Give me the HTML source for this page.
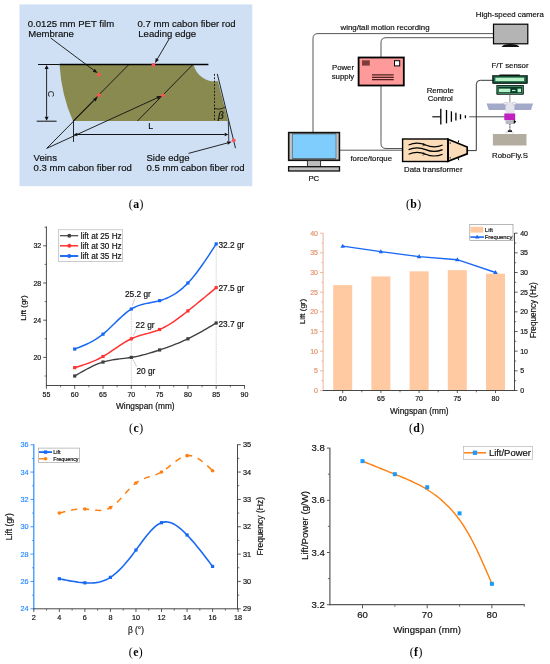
<!DOCTYPE html>
<html><head><meta charset="utf-8"><title>Figure</title>
<style>
html,body{margin:0;padding:0;background:#fff;overflow:hidden;}
svg{display:block;font-family:"Liberation Sans",sans-serif;}
</style></head><body>
<svg width="550" height="664" viewBox="0 0 550 664">
<rect x="0" y="0" width="550" height="664" fill="#fff"/>

<g id="pa">
<rect x="19.5" y="4.4" width="232.8" height="181.8" fill="#cfe0f4"/>
<path d="M59.5,64.4 L193.5,64.4 A22,22 0 0 0 217.9,81.1 L228.2,121 L73,121 Q61.6,96 59.5,64.4 Z" fill="#888a50"/>
<line x1="129" y1="64.4" x2="73" y2="121" stroke="#111" stroke-width="0.9"/>
<line x1="193" y1="64.4" x2="137.4" y2="121" stroke="#111" stroke-width="0.9"/>
<line x1="59.5" y1="64.45" x2="208.4" y2="64.45" stroke="#000" stroke-width="1.6"/>
<line x1="217.3" y1="73.9" x2="235.5" y2="148.2" stroke="#111" stroke-width="0.9"/>
<line x1="214.5" y1="73.9" x2="214.5" y2="121" stroke="#111" stroke-width="0.9" stroke-dasharray="1.9,1.5"/>
<path d="M214.5,108.2 Q220,110.6 225.3,106.8" fill="none" stroke="#111" stroke-width="0.8"/>
<text x="218.00" y="118.60" font-size="10" text-anchor="start" fill="#111" stroke="#111" stroke-width="0.18" font-style="italic">β</text>
<line x1="38" y1="64.5" x2="59.6" y2="64.5" stroke="#111" stroke-width="1"/>
<line x1="36.7" y1="121.2" x2="56.6" y2="121.2" stroke="#111" stroke-width="1"/>
<line x1="46.60" y1="90.00" x2="46.60" y2="69.00" stroke="#111" stroke-width="0.9"/>
<polygon points="46.60,65.00 48.60,69.00 44.60,69.00" fill="#111"/>
<line x1="46.60" y1="90.00" x2="46.60" y2="116.80" stroke="#111" stroke-width="0.9"/>
<polygon points="46.60,120.80 44.60,116.80 48.60,116.80" fill="#111"/>
<text transform="translate(47.6,94) rotate(90)" font-size="8.8" text-anchor="middle" fill="#111">C</text>
<line x1="73.5" y1="121" x2="73.5" y2="142" stroke="#111" stroke-width="0.9"/>
<line x1="228.3" y1="121" x2="228.8" y2="141.3" stroke="#223" stroke-width="0.9"/>
<line x1="150.00" y1="134.50" x2="77.40" y2="134.50" stroke="#111" stroke-width="1"/>
<polygon points="73.80,134.50 77.40,132.70 77.40,136.30" fill="#111"/>
<line x1="150.00" y1="134.50" x2="224.70" y2="134.50" stroke="#111" stroke-width="1"/>
<polygon points="228.30,134.50 224.70,136.30 224.70,132.70" fill="#111"/>
<text x="148.20" y="129.30" font-size="8.8" text-anchor="start" fill="#111" stroke="#111" stroke-width="0.18" >L</text>
<line x1="50.70" y1="38.00" x2="93.82" y2="70.25" stroke="#111" stroke-width="0.9"/>
<polygon points="97.50,73.00 92.74,71.69 94.89,68.80" fill="#111"/>
<line x1="169.40" y1="38.50" x2="157.33" y2="59.03" stroke="#111" stroke-width="0.9"/>
<polygon points="155.00,63.00 155.78,58.12 158.88,59.95" fill="#111"/>
<line x1="46.70" y1="148.40" x2="94.36" y2="100.27" stroke="#111" stroke-width="0.9"/>
<polygon points="97.60,97.00 95.64,101.54 93.08,99.00" fill="#111"/>
<line x1="46.70" y1="148.40" x2="157.12" y2="97.91" stroke="#111" stroke-width="0.9"/>
<polygon points="161.30,96.00 157.87,99.55 156.37,96.28" fill="#111"/>
<line x1="188.50" y1="153.40" x2="227.36" y2="142.99" stroke="#111" stroke-width="0.9"/>
<polygon points="231.80,141.80 227.82,144.73 226.89,141.25" fill="#111"/>
<circle cx="99.0" cy="74.6" r="1.9" fill="#ff5252"/>
<circle cx="99.0" cy="95.2" r="1.9" fill="#ff5252"/>
<circle cx="153.4" cy="65.0" r="1.9" fill="#ff5252"/>
<circle cx="163.0" cy="95.3" r="1.9" fill="#ff5252"/>
<circle cx="233.7" cy="140.3" r="1.9" fill="#ff5252"/>
<text x="27.80" y="26.70" font-size="9.55" text-anchor="start" fill="#111" stroke="#111" stroke-width="0.18" >0.0125 mm PET film</text>
<text x="28.30" y="36.90" font-size="9.55" text-anchor="start" fill="#111" stroke="#111" stroke-width="0.18" >Membrane</text>
<text x="137.50" y="26.70" font-size="9.55" text-anchor="start" fill="#111" stroke="#111" stroke-width="0.18" >0.7 mm cabon fiber rod</text>
<text x="138.30" y="36.90" font-size="9.55" text-anchor="start" fill="#111" stroke="#111" stroke-width="0.18" >Leading edge</text>
<text x="33.60" y="160.50" font-size="9.55" text-anchor="start" fill="#111" stroke="#111" stroke-width="0.18" >Veins</text>
<text x="33.60" y="171.30" font-size="9.55" text-anchor="start" fill="#111" stroke="#111" stroke-width="0.18" >0.3 mm cabon fiber rod</text>
<text x="146.50" y="160.50" font-size="9.55" text-anchor="start" fill="#111" stroke="#111" stroke-width="0.18" >Side edge</text>
<text x="146.50" y="171.30" font-size="9.55" text-anchor="start" fill="#111" stroke="#111" stroke-width="0.18" >0.5 mm cabon fiber rod</text>
<text x="136.40" y="207.60" font-family="'Liberation Serif',serif" font-size="11.8" letter-spacing="0.45" text-anchor="middle" fill="#000">(<tspan font-weight="bold">a</tspan>)</text>
</g>
<g id="pb">
<path d="M313,132 V38.6 Q313,33.6 318,33.6 H493" fill="none" stroke="#444" stroke-width="0.9"/>
<path d="M493,37.7 H386 Q381,37.7 381,42.7 V143.5 Q381,148.5 386,148.5 H403" fill="none" stroke="#444" stroke-width="0.9"/>
<line x1="340" y1="150.2" x2="403" y2="150.2" stroke="#444" stroke-width="0.9"/>
<path d="M493,80.3 H480.3 Q476.3,80.3 476.3,84.3 V150.6 H467" fill="none" stroke="#222" stroke-width="0.9"/>
<line x1="469.2" y1="116.8" x2="505" y2="116.8" stroke="#222" stroke-width="0.8"/>
<text x="340.60" y="30.00" font-size="7.85" text-anchor="start" fill="#111" stroke="#111" stroke-width="0.18" >wing/tail motion recording</text>
<rect x="358.6" y="57.5" width="45.2" height="28" fill="#ff9a9a" stroke="#000" stroke-width="1.8"/>
<rect x="362" y="60.3" width="7.8" height="5.3" fill="#7d3b3b"/>
<rect x="394.5" y="60.7" width="5.2" height="5.2" fill="#fff" stroke="#000" stroke-width="1"/>
<line x1="372" y1="74.9" x2="393.7" y2="74.9" stroke="#2a0808" stroke-width="1.05"/>
<line x1="372" y1="77.3" x2="393.7" y2="77.3" stroke="#2a0808" stroke-width="1.05"/>
<line x1="372" y1="79.7" x2="393.7" y2="79.7" stroke="#2a0808" stroke-width="1.05"/>
<text x="343.00" y="70.00" font-size="7.8" text-anchor="middle" fill="#111" stroke="#111" stroke-width="0.18" >Power</text>
<text x="343.00" y="78.90" font-size="7.8" text-anchor="middle" fill="#111" stroke="#111" stroke-width="0.18" >supply</text>
<text x="509.80" y="16.50" font-size="7.8" text-anchor="middle" fill="#111" stroke="#111" stroke-width="0.18" >High-speed camera</text>
<rect x="493.5" y="24.2" width="34.3" height="19.6" fill="#b4b4b4" stroke="#000" stroke-width="1.2"/>
<path d="M501.6,47 Q503,44 510.5,44 Q518,44 519.4,47 Z" fill="#111"/>
<text x="510.00" y="68.00" font-size="7.8" text-anchor="middle" fill="#111" stroke="#111" stroke-width="0.18" >F/T sensor</text>
<rect x="499.4" y="74.5" width="20.4" height="1.4" fill="#111"/>
<rect x="492.7" y="75.6" width="34.6" height="8" fill="#0b3b2a" stroke="#000" stroke-width="0.6"/>
<rect x="494.6" y="77" width="30.6" height="4.9" fill="none" stroke="#2f8f5a" stroke-width="0.5"/>
<rect x="495.3" y="77.6" width="29" height="3.6" fill="#b6f3c6"/>
<rect x="496.8" y="85.3" width="26.7" height="9" fill="#0b3b2a" stroke="#000" stroke-width="0.6"/>
<rect x="497.9" y="86.5" width="24.6" height="6.8" fill="none" stroke="#6fcf96" stroke-width="0.5"/>
<rect x="498.8" y="88.6" width="11.5" height="3.6" fill="#b6f3c6"/>
<rect x="517.5" y="88.6" width="3.6" height="3.6" fill="#b6f3c6"/>
<rect x="512" y="89.9" width="3.5" height="1.2" fill="#b6f3c6"/>
<line x1="509.9" y1="94.3" x2="509.9" y2="103" stroke="#555" stroke-width="0.7"/>
<polygon points="486.6,103.4 533,103.4 531,110 488.8,110" fill="#a3a9c9"/>
<rect x="505.6" y="102.3" width="8.8" height="11.5" fill="#e4e4ec"/>
<rect x="503.8" y="102.4" width="3.4" height="2.4" rx="1" fill="#f4f4f8" stroke="#889" stroke-width="0.3"/><rect x="512.6" y="102.4" width="3.4" height="2.4" rx="1" fill="#f4f4f8" stroke="#889" stroke-width="0.3"/>
<rect x="504.3" y="113.5" width="10.9" height="6.7" fill="#c021c0"/>
<rect x="505.6" y="120.2" width="8.6" height="3.8" fill="#b8b8c4"/>
<polygon points="513.8,119.5 516.2,121.8 513.8,124" fill="#000"/>
<line x1="509.9" y1="124" x2="509.9" y2="131" stroke="#334" stroke-width="1" stroke-dasharray="1.5,0.8"/>
<rect x="507.8" y="130.3" width="4.2" height="1.8" fill="#111"/>
<rect x="506" y="132" width="7" height="2.2" fill="#fff" stroke="#99a" stroke-width="0.3"/>
<rect x="492.9" y="134" width="33.6" height="11.5" fill="#b3ad9f"/>
<text x="510.00" y="158.40" font-size="7.8" text-anchor="middle" fill="#111" stroke="#111" stroke-width="0.18" >RoboFly.S</text>
<text x="440.30" y="92.90" font-size="7.8" text-anchor="middle" fill="#111" stroke="#111" stroke-width="0.18" >Remote</text>
<text x="440.30" y="101.30" font-size="7.8" text-anchor="middle" fill="#111" stroke="#111" stroke-width="0.18" >Control</text>
<line x1="432.3" y1="116.8" x2="440.8" y2="116.8" stroke="#000" stroke-width="1.1"/>
<line x1="440.8" y1="108.7" x2="440.8" y2="124.5" stroke="#000" stroke-width="1.3"/>
<line x1="446.5" y1="110.0" x2="446.5" y2="123.3" stroke="#000" stroke-width="1.3"/>
<line x1="451.4" y1="111.3" x2="451.4" y2="121.8" stroke="#000" stroke-width="1.3"/>
<line x1="455.9" y1="112.7" x2="455.9" y2="120.5" stroke="#000" stroke-width="1.3"/>
<line x1="460.5" y1="114.2" x2="460.5" y2="119.3" stroke="#000" stroke-width="1.3"/>
<line x1="465.4" y1="115.3" x2="465.4" y2="118.2" stroke="#000" stroke-width="1.3"/>
<polygon points="448,139.2 467.2,147 467.2,153.8 448,161.3" fill="#fbdcb9" stroke="#000" stroke-width="1.7" stroke-linejoin="miter"/>
<rect x="402.6" y="139" width="45.4" height="22.5" fill="#fbdcb9" stroke="#000" stroke-width="1.4"/>
<line x1="448" y1="139" x2="448" y2="161.5" stroke="#000" stroke-width="2"/>
<path d="M408.6,145.0 Q417,141.4 425.6,145.0 T442.6,145.0" fill="none" stroke="#000" stroke-width="1.15"/>
<path d="M408.6,149.6 Q417,146.0 425.6,149.6 T442.6,149.6" fill="none" stroke="#000" stroke-width="1.15"/>
<path d="M408.6,154.2 Q417,150.6 425.6,154.2 T442.6,154.2" fill="none" stroke="#000" stroke-width="1.15"/>
<path d="M423,143.2 l2.5,1.6 l-3,1.2" fill="none" stroke="#111" stroke-width="0.7"/>
<path d="M423,152.4 l2.5,1.6 l-3,1.2" fill="none" stroke="#111" stroke-width="0.7"/>
<path d="M458.2,142.6 l0.5,-2.2 M458.2,158 l0.5,2.2" stroke="#000" stroke-width="1" fill="none"/>
<rect x="449.6" y="142.5" width="1.2" height="1.2" fill="#222"/><rect x="449.6" y="157.2" width="1.2" height="1.2" fill="#222"/>
<text x="433.30" y="171.80" font-size="7.8" text-anchor="middle" fill="#111" stroke="#111" stroke-width="0.18" >Data transformer</text>
<rect x="288.6" y="132.5" width="50.9" height="27.9" fill="#707070" stroke="#111" stroke-width="1.4"/>
<rect x="289.8" y="133.6" width="2.4" height="25.6" fill="#c4c4c4"/>
<rect x="336" y="133.6" width="2.4" height="25.6" fill="#c4c4c4"/>
<rect x="292.2" y="134" width="43.8" height="24.5" fill="#7fcdfc" stroke="#444" stroke-width="0.5"/>
<rect x="307.4" y="160.6" width="13.2" height="6" fill="#bdbdbd" stroke="#222" stroke-width="0.9"/>
<rect x="288.6" y="166.7" width="50.9" height="4.3" fill="#bebebe" stroke="#111" stroke-width="1.3"/>
<text x="313.80" y="181.00" font-size="7.8" text-anchor="middle" fill="#111" stroke="#111" stroke-width="0.18" >PC</text>
<text x="371.20" y="160.60" font-size="7.8" text-anchor="middle" fill="#111" stroke="#111" stroke-width="0.18" >force/torque</text>
<text x="413.80" y="207.60" font-family="'Liberation Serif',serif" font-size="11.8" letter-spacing="0.45" text-anchor="middle" fill="#000">(<tspan font-weight="bold">b</tspan>)</text>
</g>
<g id="pc">
<line x1="46.4" y1="226.5" x2="46.4" y2="386" stroke="#333" stroke-width="0.9"/>
<line x1="46" y1="385.5" x2="244.9" y2="385.5" stroke="#333" stroke-width="0.9"/>
<line x1="43.2" y1="357.40" x2="46.4" y2="357.40" stroke="#333" stroke-width="0.8"/>
<text x="41.20" y="359.90" font-size="7" text-anchor="end" fill="#111" stroke="#111" stroke-width="0.18" >20</text>
<line x1="43.2" y1="320.20" x2="46.4" y2="320.20" stroke="#333" stroke-width="0.8"/>
<text x="41.20" y="322.70" font-size="7" text-anchor="end" fill="#111" stroke="#111" stroke-width="0.18" >24</text>
<line x1="43.2" y1="283.00" x2="46.4" y2="283.00" stroke="#333" stroke-width="0.8"/>
<text x="41.20" y="285.50" font-size="7" text-anchor="end" fill="#111" stroke="#111" stroke-width="0.18" >28</text>
<line x1="43.2" y1="245.80" x2="46.4" y2="245.80" stroke="#333" stroke-width="0.8"/>
<text x="41.20" y="248.30" font-size="7" text-anchor="end" fill="#111" stroke="#111" stroke-width="0.18" >32</text>
<line x1="44.6" y1="376.00" x2="46.4" y2="376.00" stroke="#333" stroke-width="0.7"/>
<line x1="44.6" y1="338.80" x2="46.4" y2="338.80" stroke="#333" stroke-width="0.7"/>
<line x1="44.6" y1="301.60" x2="46.4" y2="301.60" stroke="#333" stroke-width="0.7"/>
<line x1="44.6" y1="264.40" x2="46.4" y2="264.40" stroke="#333" stroke-width="0.7"/>
<line x1="44.6" y1="227.20" x2="46.4" y2="227.20" stroke="#333" stroke-width="0.7"/>
<line x1="46.40" y1="385.5" x2="46.40" y2="388.8" stroke="#333" stroke-width="0.8"/>
<text x="46.40" y="397.00" font-size="7" text-anchor="middle" fill="#111" stroke="#111" stroke-width="0.18" >55</text>
<line x1="74.70" y1="385.5" x2="74.70" y2="388.8" stroke="#333" stroke-width="0.8"/>
<text x="74.70" y="397.00" font-size="7" text-anchor="middle" fill="#111" stroke="#111" stroke-width="0.18" >60</text>
<line x1="103.00" y1="385.5" x2="103.00" y2="388.8" stroke="#333" stroke-width="0.8"/>
<text x="103.00" y="397.00" font-size="7" text-anchor="middle" fill="#111" stroke="#111" stroke-width="0.18" >65</text>
<line x1="131.30" y1="385.5" x2="131.30" y2="388.8" stroke="#333" stroke-width="0.8"/>
<text x="131.30" y="397.00" font-size="7" text-anchor="middle" fill="#111" stroke="#111" stroke-width="0.18" >70</text>
<line x1="159.60" y1="385.5" x2="159.60" y2="388.8" stroke="#333" stroke-width="0.8"/>
<text x="159.60" y="397.00" font-size="7" text-anchor="middle" fill="#111" stroke="#111" stroke-width="0.18" >75</text>
<line x1="187.90" y1="385.5" x2="187.90" y2="388.8" stroke="#333" stroke-width="0.8"/>
<text x="187.90" y="397.00" font-size="7" text-anchor="middle" fill="#111" stroke="#111" stroke-width="0.18" >80</text>
<line x1="216.20" y1="385.5" x2="216.20" y2="388.8" stroke="#333" stroke-width="0.8"/>
<text x="216.20" y="397.00" font-size="7" text-anchor="middle" fill="#111" stroke="#111" stroke-width="0.18" >85</text>
<line x1="244.50" y1="385.5" x2="244.50" y2="388.8" stroke="#333" stroke-width="0.8"/>
<text x="244.50" y="397.00" font-size="7" text-anchor="middle" fill="#111" stroke="#111" stroke-width="0.18" >90</text>
<line x1="60.55" y1="385.5" x2="60.55" y2="387.3" stroke="#333" stroke-width="0.7"/>
<line x1="88.85" y1="385.5" x2="88.85" y2="387.3" stroke="#333" stroke-width="0.7"/>
<line x1="117.15" y1="385.5" x2="117.15" y2="387.3" stroke="#333" stroke-width="0.7"/>
<line x1="145.45" y1="385.5" x2="145.45" y2="387.3" stroke="#333" stroke-width="0.7"/>
<line x1="173.75" y1="385.5" x2="173.75" y2="387.3" stroke="#333" stroke-width="0.7"/>
<line x1="202.05" y1="385.5" x2="202.05" y2="387.3" stroke="#333" stroke-width="0.7"/>
<line x1="230.35" y1="385.5" x2="230.35" y2="387.3" stroke="#333" stroke-width="0.7"/>
<text x="145.30" y="408.80" font-size="8.3" text-anchor="middle" fill="#111" stroke="#111" stroke-width="0.18" >Wingspan (mm)</text>
<text transform="translate(26.40,308.00) rotate(-90)" font-size="8" text-anchor="middle" fill="#111" stroke="#111" stroke-width="0.18">Lift (gr)</text>
<line x1="131.30" y1="309.04" x2="131.30" y2="385.5" stroke="#aaa" stroke-width="0.7" stroke-dasharray="0.8,0.9"/>
<line x1="216.20" y1="243.94" x2="216.20" y2="385.5" stroke="#aaa" stroke-width="0.7" stroke-dasharray="0.8,0.9"/>
<path d="M74.70,376.00 L77.06,374.62 L79.42,373.25 L81.78,371.89 L84.13,370.57 L86.49,369.28 L88.85,368.03 L91.21,366.85 L93.57,365.72 L95.92,364.67 L98.28,363.70 L100.64,362.83 L103.00,362.05 L105.36,361.38 L107.72,360.81 L110.08,360.32 L112.43,359.90 L114.79,359.53 L117.15,359.21 L119.51,358.92 L121.87,358.64 L124.22,358.36 L126.58,358.07 L128.94,357.76 L131.30,357.40 L133.66,356.99 L136.02,356.54 L138.38,356.04 L140.73,355.49 L143.09,354.91 L145.45,354.29 L147.81,353.63 L150.17,352.94 L152.53,352.23 L154.88,351.49 L157.24,350.74 L159.60,349.96 L161.96,349.17 L164.32,348.36 L166.68,347.53 L169.03,346.69 L171.39,345.81 L173.75,344.91 L176.11,343.98 L178.47,343.02 L180.83,342.02 L183.18,340.99 L185.54,339.92 L187.90,338.80 L190.26,337.64 L192.62,336.44 L194.98,335.20 L197.33,333.93 L199.69,332.63 L202.05,331.30 L204.41,329.95 L206.77,328.58 L209.12,327.19 L211.48,325.80 L213.84,324.40 L216.20,322.99" fill="none" stroke="#3f3f3f" stroke-width="1.35" stroke-linejoin="round"/>
<rect x="73.10" y="374.40" width="3.2" height="3.2" fill="#3f3f3f"/>
<rect x="101.40" y="360.45" width="3.2" height="3.2" fill="#3f3f3f"/>
<rect x="129.70" y="355.80" width="3.2" height="3.2" fill="#3f3f3f"/>
<rect x="158.00" y="348.36" width="3.2" height="3.2" fill="#3f3f3f"/>
<rect x="186.30" y="337.20" width="3.2" height="3.2" fill="#3f3f3f"/>
<rect x="214.60" y="321.39" width="3.2" height="3.2" fill="#3f3f3f"/>
<path d="M74.70,367.63 L77.06,366.91 L79.42,366.18 L81.78,365.43 L84.13,364.65 L86.49,363.84 L88.85,362.99 L91.21,362.08 L93.57,361.12 L95.92,360.08 L98.28,358.97 L100.64,357.77 L103.00,356.47 L105.36,355.07 L107.72,353.60 L110.08,352.05 L112.43,350.47 L114.79,348.87 L117.15,347.26 L119.51,345.68 L121.87,344.14 L124.22,342.66 L126.58,341.26 L128.94,339.97 L131.30,338.80 L133.66,337.77 L136.02,336.86 L138.38,336.06 L140.73,335.33 L143.09,334.65 L145.45,334.00 L147.81,333.37 L150.17,332.71 L152.53,332.02 L154.88,331.27 L157.24,330.44 L159.60,329.50 L161.96,328.44 L164.32,327.25 L166.68,325.96 L169.03,324.56 L171.39,323.08 L173.75,321.51 L176.11,319.87 L178.47,318.16 L180.83,316.40 L183.18,314.60 L185.54,312.76 L187.90,310.90 L190.26,309.02 L192.62,307.12 L194.98,305.21 L197.33,303.29 L199.69,301.36 L202.05,299.42 L204.41,297.47 L206.77,295.51 L209.12,293.55 L211.48,291.59 L213.84,289.62 L216.20,287.65" fill="none" stroke="#ff3232" stroke-width="1.5" stroke-linejoin="round"/>
<rect x="73.10" y="366.03" width="3.2" height="3.2" fill="#ff3232"/>
<rect x="101.40" y="354.87" width="3.2" height="3.2" fill="#ff3232"/>
<rect x="129.70" y="337.20" width="3.2" height="3.2" fill="#ff3232"/>
<rect x="158.00" y="327.90" width="3.2" height="3.2" fill="#ff3232"/>
<rect x="186.30" y="309.30" width="3.2" height="3.2" fill="#ff3232"/>
<rect x="214.60" y="286.05" width="3.2" height="3.2" fill="#ff3232"/>
<path d="M74.70,349.03 L77.06,348.12 L79.42,347.20 L81.78,346.25 L84.13,345.26 L86.49,344.21 L88.85,343.10 L91.21,341.90 L93.57,340.60 L95.92,339.19 L98.28,337.65 L100.64,335.98 L103.00,334.15 L105.36,332.16 L107.72,330.04 L110.08,327.82 L112.43,325.54 L114.79,323.22 L117.15,320.91 L119.51,318.64 L121.87,316.44 L124.22,314.34 L126.58,312.39 L128.94,310.61 L131.30,309.04 L133.66,307.70 L136.02,306.58 L138.38,305.64 L140.73,304.86 L143.09,304.20 L145.45,303.64 L147.81,303.15 L150.17,302.70 L152.53,302.25 L154.88,301.78 L157.24,301.27 L159.60,300.67 L161.96,299.97 L164.32,299.15 L166.68,298.21 L169.03,297.14 L171.39,295.93 L173.75,294.57 L176.11,293.07 L178.47,291.40 L180.83,289.57 L183.18,287.56 L185.54,285.38 L187.90,283.00 L190.26,280.43 L192.62,277.69 L194.98,274.78 L197.33,271.72 L199.69,268.53 L202.05,265.23 L204.41,261.83 L206.77,258.35 L209.12,254.81 L211.48,251.21 L213.84,247.58 L216.20,243.94" fill="none" stroke="#1868f4" stroke-width="1.5" stroke-linejoin="round"/>
<rect x="73.10" y="347.43" width="3.2" height="3.2" fill="#1868f4"/>
<rect x="101.40" y="332.55" width="3.2" height="3.2" fill="#1868f4"/>
<rect x="129.70" y="307.44" width="3.2" height="3.2" fill="#1868f4"/>
<rect x="158.00" y="299.07" width="3.2" height="3.2" fill="#1868f4"/>
<rect x="186.30" y="281.40" width="3.2" height="3.2" fill="#1868f4"/>
<rect x="214.60" y="242.34" width="3.2" height="3.2" fill="#1868f4"/>
<line x1="134.8" y1="298.5" x2="132.2" y2="305.5" stroke="#999" stroke-width="0.5"/>
<line x1="136.5" y1="328.8" x2="133.3" y2="335.6" stroke="#999" stroke-width="0.5"/>
<line x1="133" y1="359.5" x2="136.6" y2="366.5" stroke="#999" stroke-width="0.5"/>
<text x="125.00" y="297.00" font-size="8.3" text-anchor="start" fill="#111" stroke="#111" stroke-width="0.18" >25.2 gr</text>
<text x="135.60" y="327.70" font-size="8.3" text-anchor="start" fill="#111" stroke="#111" stroke-width="0.18" >22 gr</text>
<text x="136.40" y="374.00" font-size="8.3" text-anchor="start" fill="#111" stroke="#111" stroke-width="0.18" >20 gr</text>
<text x="218.50" y="248.00" font-size="8.3" text-anchor="start" fill="#111" stroke="#111" stroke-width="0.18" >32.2 gr</text>
<text x="218.50" y="290.60" font-size="8.3" text-anchor="start" fill="#111" stroke="#111" stroke-width="0.18" >27.5 gr</text>
<text x="218.50" y="326.50" font-size="8.3" text-anchor="start" fill="#111" stroke="#111" stroke-width="0.18" >23.7 gr</text>
<rect x="58.3" y="229.8" width="64.4" height="31.7" fill="#fff" stroke="#aaa" stroke-width="0.6"/>
<line x1="60" y1="235.7" x2="78.2" y2="235.7" stroke="#3f3f3f" stroke-width="1.2"/>
<circle cx="69.3" cy="235.7" r="2" fill="#3f3f3f"/>
<text x="80.70" y="238.60" font-size="8.2" text-anchor="start" fill="#111" stroke="#111" stroke-width="0.18" >lift at 25 Hz</text>
<line x1="60" y1="245.8" x2="78.2" y2="245.8" stroke="#ff3232" stroke-width="1.5"/>
<circle cx="69.3" cy="245.8" r="2" fill="#ff3232"/>
<text x="80.70" y="248.70" font-size="8.2" text-anchor="start" fill="#111" stroke="#111" stroke-width="0.18" >lift at 30 Hz</text>
<line x1="60" y1="256.0" x2="78.2" y2="256.0" stroke="#1868f4" stroke-width="1.9"/>
<circle cx="69.3" cy="256.0" r="2" fill="#1868f4"/>
<text x="80.70" y="258.90" font-size="8.2" text-anchor="start" fill="#111" stroke="#111" stroke-width="0.18" >lift at 35 Hz</text>
<text x="136.30" y="431.80" font-family="'Liberation Serif',serif" font-size="11.8" letter-spacing="0.45" text-anchor="middle" fill="#000">(<tspan font-weight="bold">c</tspan>)</text>
</g>
<g id="pd">
<rect x="333.20" y="285.10" width="19" height="105.40" fill="#ffc9a2"/>
<rect x="371.40" y="276.44" width="19" height="114.06" fill="#ffc9a2"/>
<rect x="409.60" y="271.33" width="19" height="119.17" fill="#ffc9a2"/>
<rect x="447.80" y="270.15" width="19" height="120.35" fill="#ffc9a2"/>
<rect x="486.00" y="273.69" width="19" height="116.81" fill="#ffc9a2"/>
<line x1="323.1" y1="233" x2="323.1" y2="391" stroke="#e9a98a" stroke-width="0.9"/>
<line x1="514.5" y1="233" x2="514.5" y2="391" stroke="#333" stroke-width="0.9"/>
<line x1="322.7" y1="390.5" x2="514.9" y2="390.5" stroke="#333" stroke-width="0.9"/>
<line x1="320" y1="390.50" x2="323.1" y2="390.50" stroke="#e9a98a" stroke-width="0.8"/>
<text x="318.00" y="393.00" font-size="7" text-anchor="end" fill="#e2946f" stroke="#e2946f" stroke-width="0.18" >0</text>
<line x1="514.5" y1="390.50" x2="517.6" y2="390.50" stroke="#333" stroke-width="0.8"/>
<text x="520.20" y="393.00" font-size="7" text-anchor="start" fill="#111" stroke="#111" stroke-width="0.18" >0</text>
<line x1="320" y1="370.83" x2="323.1" y2="370.83" stroke="#e9a98a" stroke-width="0.8"/>
<text x="318.00" y="373.33" font-size="7" text-anchor="end" fill="#e2946f" stroke="#e2946f" stroke-width="0.18" >5</text>
<line x1="514.5" y1="370.83" x2="517.6" y2="370.83" stroke="#333" stroke-width="0.8"/>
<text x="520.20" y="373.33" font-size="7" text-anchor="start" fill="#111" stroke="#111" stroke-width="0.18" >5</text>
<line x1="320" y1="351.17" x2="323.1" y2="351.17" stroke="#e9a98a" stroke-width="0.8"/>
<text x="318.00" y="353.67" font-size="7" text-anchor="end" fill="#e2946f" stroke="#e2946f" stroke-width="0.18" >10</text>
<line x1="514.5" y1="351.17" x2="517.6" y2="351.17" stroke="#333" stroke-width="0.8"/>
<text x="520.20" y="353.67" font-size="7" text-anchor="start" fill="#111" stroke="#111" stroke-width="0.18" >10</text>
<line x1="320" y1="331.50" x2="323.1" y2="331.50" stroke="#e9a98a" stroke-width="0.8"/>
<text x="318.00" y="334.00" font-size="7" text-anchor="end" fill="#e2946f" stroke="#e2946f" stroke-width="0.18" >15</text>
<line x1="514.5" y1="331.50" x2="517.6" y2="331.50" stroke="#333" stroke-width="0.8"/>
<text x="520.20" y="334.00" font-size="7" text-anchor="start" fill="#111" stroke="#111" stroke-width="0.18" >15</text>
<line x1="320" y1="311.84" x2="323.1" y2="311.84" stroke="#e9a98a" stroke-width="0.8"/>
<text x="318.00" y="314.34" font-size="7" text-anchor="end" fill="#e2946f" stroke="#e2946f" stroke-width="0.18" >20</text>
<line x1="514.5" y1="311.84" x2="517.6" y2="311.84" stroke="#333" stroke-width="0.8"/>
<text x="520.20" y="314.34" font-size="7" text-anchor="start" fill="#111" stroke="#111" stroke-width="0.18" >20</text>
<line x1="320" y1="292.18" x2="323.1" y2="292.18" stroke="#e9a98a" stroke-width="0.8"/>
<text x="318.00" y="294.68" font-size="7" text-anchor="end" fill="#e2946f" stroke="#e2946f" stroke-width="0.18" >25</text>
<line x1="514.5" y1="292.18" x2="517.6" y2="292.18" stroke="#333" stroke-width="0.8"/>
<text x="520.20" y="294.68" font-size="7" text-anchor="start" fill="#111" stroke="#111" stroke-width="0.18" >25</text>
<line x1="320" y1="272.51" x2="323.1" y2="272.51" stroke="#e9a98a" stroke-width="0.8"/>
<text x="318.00" y="275.01" font-size="7" text-anchor="end" fill="#e2946f" stroke="#e2946f" stroke-width="0.18" >30</text>
<line x1="514.5" y1="272.51" x2="517.6" y2="272.51" stroke="#333" stroke-width="0.8"/>
<text x="520.20" y="275.01" font-size="7" text-anchor="start" fill="#111" stroke="#111" stroke-width="0.18" >30</text>
<line x1="320" y1="252.84" x2="323.1" y2="252.84" stroke="#e9a98a" stroke-width="0.8"/>
<text x="318.00" y="255.34" font-size="7" text-anchor="end" fill="#e2946f" stroke="#e2946f" stroke-width="0.18" >35</text>
<line x1="514.5" y1="252.84" x2="517.6" y2="252.84" stroke="#333" stroke-width="0.8"/>
<text x="520.20" y="255.34" font-size="7" text-anchor="start" fill="#111" stroke="#111" stroke-width="0.18" >35</text>
<line x1="320" y1="233.18" x2="323.1" y2="233.18" stroke="#e9a98a" stroke-width="0.8"/>
<text x="318.00" y="235.68" font-size="7" text-anchor="end" fill="#e2946f" stroke="#e2946f" stroke-width="0.18" >40</text>
<line x1="514.5" y1="233.18" x2="517.6" y2="233.18" stroke="#333" stroke-width="0.8"/>
<text x="520.20" y="235.68" font-size="7" text-anchor="start" fill="#111" stroke="#111" stroke-width="0.18" >40</text>
<line x1="321.4" y1="380.67" x2="323.1" y2="380.67" stroke="#e9a98a" stroke-width="0.7"/>
<line x1="514.5" y1="380.67" x2="516.2" y2="380.67" stroke="#333" stroke-width="0.7"/>
<line x1="321.4" y1="361.00" x2="323.1" y2="361.00" stroke="#e9a98a" stroke-width="0.7"/>
<line x1="514.5" y1="361.00" x2="516.2" y2="361.00" stroke="#333" stroke-width="0.7"/>
<line x1="321.4" y1="341.34" x2="323.1" y2="341.34" stroke="#e9a98a" stroke-width="0.7"/>
<line x1="514.5" y1="341.34" x2="516.2" y2="341.34" stroke="#333" stroke-width="0.7"/>
<line x1="321.4" y1="321.67" x2="323.1" y2="321.67" stroke="#e9a98a" stroke-width="0.7"/>
<line x1="514.5" y1="321.67" x2="516.2" y2="321.67" stroke="#333" stroke-width="0.7"/>
<line x1="321.4" y1="302.01" x2="323.1" y2="302.01" stroke="#e9a98a" stroke-width="0.7"/>
<line x1="514.5" y1="302.01" x2="516.2" y2="302.01" stroke="#333" stroke-width="0.7"/>
<line x1="321.4" y1="282.34" x2="323.1" y2="282.34" stroke="#e9a98a" stroke-width="0.7"/>
<line x1="514.5" y1="282.34" x2="516.2" y2="282.34" stroke="#333" stroke-width="0.7"/>
<line x1="321.4" y1="262.68" x2="323.1" y2="262.68" stroke="#e9a98a" stroke-width="0.7"/>
<line x1="514.5" y1="262.68" x2="516.2" y2="262.68" stroke="#333" stroke-width="0.7"/>
<line x1="321.4" y1="243.01" x2="323.1" y2="243.01" stroke="#e9a98a" stroke-width="0.7"/>
<line x1="514.5" y1="243.01" x2="516.2" y2="243.01" stroke="#333" stroke-width="0.7"/>
<line x1="342.70" y1="390.5" x2="342.70" y2="393.1" stroke="#333" stroke-width="0.8"/>
<text x="342.70" y="401.00" font-size="7" text-anchor="middle" fill="#111" stroke="#111" stroke-width="0.18" >60</text>
<line x1="380.90" y1="390.5" x2="380.90" y2="393.1" stroke="#333" stroke-width="0.8"/>
<text x="380.90" y="401.00" font-size="7" text-anchor="middle" fill="#111" stroke="#111" stroke-width="0.18" >65</text>
<line x1="419.10" y1="390.5" x2="419.10" y2="393.1" stroke="#333" stroke-width="0.8"/>
<text x="419.10" y="401.00" font-size="7" text-anchor="middle" fill="#111" stroke="#111" stroke-width="0.18" >70</text>
<line x1="457.30" y1="390.5" x2="457.30" y2="393.1" stroke="#333" stroke-width="0.8"/>
<text x="457.30" y="401.00" font-size="7" text-anchor="middle" fill="#111" stroke="#111" stroke-width="0.18" >75</text>
<line x1="495.50" y1="390.5" x2="495.50" y2="393.1" stroke="#333" stroke-width="0.8"/>
<text x="495.50" y="401.00" font-size="7" text-anchor="middle" fill="#111" stroke="#111" stroke-width="0.18" >80</text>
<line x1="361.80" y1="390.5" x2="361.80" y2="392.3" stroke="#333" stroke-width="0.7"/>
<line x1="400.00" y1="390.5" x2="400.00" y2="392.3" stroke="#333" stroke-width="0.7"/>
<line x1="438.20" y1="390.5" x2="438.20" y2="392.3" stroke="#333" stroke-width="0.7"/>
<line x1="476.40" y1="390.5" x2="476.40" y2="392.3" stroke="#333" stroke-width="0.7"/>
<text x="419.30" y="414.10" font-size="8.3" text-anchor="middle" fill="#111" stroke="#111" stroke-width="0.18" >Wingspan (mm)</text>
<text transform="translate(305.00,311.50) rotate(-90)" font-size="8" text-anchor="middle" fill="#111" stroke="#111" stroke-width="0.18">Lift (gr)</text>
<text transform="translate(535.80,310.30) rotate(-90)" font-size="8.15" text-anchor="middle" fill="#111" stroke="#111" stroke-width="0.18">Frequency (Hz)</text>
<polyline points="342.70,246.16 380.90,251.67 419.10,256.58 457.30,259.73 495.50,272.51" fill="none" stroke="#1868f4" stroke-width="1.35"/>
<polygon points="342.70,243.66 340.40,247.76 345.00,247.76" fill="#1868f4"/>
<polygon points="380.90,249.17 378.60,253.27 383.20,253.27" fill="#1868f4"/>
<polygon points="419.10,254.08 416.80,258.18 421.40,258.18" fill="#1868f4"/>
<polygon points="457.30,257.23 455.00,261.33 459.60,261.33" fill="#1868f4"/>
<polygon points="495.50,270.01 493.20,274.11 497.80,274.11" fill="#1868f4"/>
<rect x="469.8" y="224.6" width="43.2" height="15.8" fill="#fff" stroke="#888" stroke-width="0.6"/>
<rect x="470.5" y="226.8" width="12.7" height="5.8" fill="#ffc9a2"/>
<text x="484.80" y="231.60" font-size="6" text-anchor="start" fill="#111" stroke="#111" stroke-width="0.18" >Lift</text>
<line x1="470.3" y1="237.1" x2="484" y2="237.1" stroke="#1868f4" stroke-width="1.6"/>
<polygon points="477.2,234.8 475,238.5 479.4,238.5" fill="#1868f4"/>
<text x="484.80" y="239.10" font-size="5.85" text-anchor="start" fill="#111" stroke="#111" stroke-width="0.18" >Frequency</text>
<text x="416.80" y="431.80" font-family="'Liberation Serif',serif" font-size="11.8" letter-spacing="0.45" text-anchor="middle" fill="#000">(<tspan font-weight="bold">d</tspan>)</text>
</g>
<g id="pe">
<line x1="33.8" y1="444.3" x2="33.8" y2="609.3" stroke="#2a8cff" stroke-width="1.2"/>
<line x1="237.5" y1="444.3" x2="237.5" y2="609.3" stroke="#333" stroke-width="0.9"/>
<line x1="33.2" y1="608.8" x2="238" y2="608.8" stroke="#333" stroke-width="0.9"/>
<line x1="30.5" y1="608.80" x2="33.8" y2="608.80" stroke="#2a8cff" stroke-width="0.9"/>
<text x="28.50" y="611.40" font-size="7.3" text-anchor="end" fill="#2a8cff" stroke="#2a8cff" stroke-width="0.18" >24</text>
<line x1="30.5" y1="581.46" x2="33.8" y2="581.46" stroke="#2a8cff" stroke-width="0.9"/>
<text x="28.50" y="584.06" font-size="7.3" text-anchor="end" fill="#2a8cff" stroke="#2a8cff" stroke-width="0.18" >26</text>
<line x1="30.5" y1="554.12" x2="33.8" y2="554.12" stroke="#2a8cff" stroke-width="0.9"/>
<text x="28.50" y="556.72" font-size="7.3" text-anchor="end" fill="#2a8cff" stroke="#2a8cff" stroke-width="0.18" >28</text>
<line x1="30.5" y1="526.78" x2="33.8" y2="526.78" stroke="#2a8cff" stroke-width="0.9"/>
<text x="28.50" y="529.38" font-size="7.3" text-anchor="end" fill="#2a8cff" stroke="#2a8cff" stroke-width="0.18" >30</text>
<line x1="30.5" y1="499.44" x2="33.8" y2="499.44" stroke="#2a8cff" stroke-width="0.9"/>
<text x="28.50" y="502.04" font-size="7.3" text-anchor="end" fill="#2a8cff" stroke="#2a8cff" stroke-width="0.18" >32</text>
<line x1="30.5" y1="472.10" x2="33.8" y2="472.10" stroke="#2a8cff" stroke-width="0.9"/>
<text x="28.50" y="474.70" font-size="7.3" text-anchor="end" fill="#2a8cff" stroke="#2a8cff" stroke-width="0.18" >34</text>
<line x1="30.5" y1="444.76" x2="33.8" y2="444.76" stroke="#2a8cff" stroke-width="0.9"/>
<text x="28.50" y="447.36" font-size="7.3" text-anchor="end" fill="#2a8cff" stroke="#2a8cff" stroke-width="0.18" >36</text>
<line x1="32" y1="595.13" x2="33.8" y2="595.13" stroke="#2a8cff" stroke-width="0.8"/>
<line x1="32" y1="567.79" x2="33.8" y2="567.79" stroke="#2a8cff" stroke-width="0.8"/>
<line x1="32" y1="540.45" x2="33.8" y2="540.45" stroke="#2a8cff" stroke-width="0.8"/>
<line x1="32" y1="513.11" x2="33.8" y2="513.11" stroke="#2a8cff" stroke-width="0.8"/>
<line x1="32" y1="485.77" x2="33.8" y2="485.77" stroke="#2a8cff" stroke-width="0.8"/>
<line x1="32" y1="458.43" x2="33.8" y2="458.43" stroke="#2a8cff" stroke-width="0.8"/>
<line x1="237.5" y1="608.80" x2="240.8" y2="608.80" stroke="#333" stroke-width="0.8"/>
<text x="243.00" y="611.40" font-size="7.3" text-anchor="start" fill="#111" stroke="#111" stroke-width="0.18" >29</text>
<line x1="237.5" y1="581.45" x2="240.8" y2="581.45" stroke="#333" stroke-width="0.8"/>
<text x="243.00" y="584.05" font-size="7.3" text-anchor="start" fill="#111" stroke="#111" stroke-width="0.18" >30</text>
<line x1="237.5" y1="554.10" x2="240.8" y2="554.10" stroke="#333" stroke-width="0.8"/>
<text x="243.00" y="556.70" font-size="7.3" text-anchor="start" fill="#111" stroke="#111" stroke-width="0.18" >31</text>
<line x1="237.5" y1="526.75" x2="240.8" y2="526.75" stroke="#333" stroke-width="0.8"/>
<text x="243.00" y="529.35" font-size="7.3" text-anchor="start" fill="#111" stroke="#111" stroke-width="0.18" >32</text>
<line x1="237.5" y1="499.40" x2="240.8" y2="499.40" stroke="#333" stroke-width="0.8"/>
<text x="243.00" y="502.00" font-size="7.3" text-anchor="start" fill="#111" stroke="#111" stroke-width="0.18" >33</text>
<line x1="237.5" y1="472.05" x2="240.8" y2="472.05" stroke="#333" stroke-width="0.8"/>
<text x="243.00" y="474.65" font-size="7.3" text-anchor="start" fill="#111" stroke="#111" stroke-width="0.18" >34</text>
<line x1="237.5" y1="444.70" x2="240.8" y2="444.70" stroke="#333" stroke-width="0.8"/>
<text x="243.00" y="447.30" font-size="7.3" text-anchor="start" fill="#111" stroke="#111" stroke-width="0.18" >35</text>
<line x1="237.5" y1="595.12" x2="239.3" y2="595.12" stroke="#333" stroke-width="0.7"/>
<line x1="237.5" y1="567.77" x2="239.3" y2="567.77" stroke="#333" stroke-width="0.7"/>
<line x1="237.5" y1="540.42" x2="239.3" y2="540.42" stroke="#333" stroke-width="0.7"/>
<line x1="237.5" y1="513.07" x2="239.3" y2="513.07" stroke="#333" stroke-width="0.7"/>
<line x1="237.5" y1="485.72" x2="239.3" y2="485.72" stroke="#333" stroke-width="0.7"/>
<line x1="237.5" y1="458.37" x2="239.3" y2="458.37" stroke="#333" stroke-width="0.7"/>
<line x1="33.80" y1="608.8" x2="33.80" y2="612" stroke="#333" stroke-width="0.8"/>
<text x="33.80" y="620.00" font-size="7.3" text-anchor="middle" fill="#111" stroke="#111" stroke-width="0.18" >2</text>
<line x1="59.34" y1="608.8" x2="59.34" y2="612" stroke="#333" stroke-width="0.8"/>
<text x="59.34" y="620.00" font-size="7.3" text-anchor="middle" fill="#111" stroke="#111" stroke-width="0.18" >4</text>
<line x1="84.88" y1="608.8" x2="84.88" y2="612" stroke="#333" stroke-width="0.8"/>
<text x="84.88" y="620.00" font-size="7.3" text-anchor="middle" fill="#111" stroke="#111" stroke-width="0.18" >6</text>
<line x1="110.42" y1="608.8" x2="110.42" y2="612" stroke="#333" stroke-width="0.8"/>
<text x="110.42" y="620.00" font-size="7.3" text-anchor="middle" fill="#111" stroke="#111" stroke-width="0.18" >8</text>
<line x1="135.96" y1="608.8" x2="135.96" y2="612" stroke="#333" stroke-width="0.8"/>
<text x="135.96" y="620.00" font-size="7.3" text-anchor="middle" fill="#111" stroke="#111" stroke-width="0.18" >10</text>
<line x1="161.50" y1="608.8" x2="161.50" y2="612" stroke="#333" stroke-width="0.8"/>
<text x="161.50" y="620.00" font-size="7.3" text-anchor="middle" fill="#111" stroke="#111" stroke-width="0.18" >12</text>
<line x1="187.04" y1="608.8" x2="187.04" y2="612" stroke="#333" stroke-width="0.8"/>
<text x="187.04" y="620.00" font-size="7.3" text-anchor="middle" fill="#111" stroke="#111" stroke-width="0.18" >14</text>
<line x1="212.58" y1="608.8" x2="212.58" y2="612" stroke="#333" stroke-width="0.8"/>
<text x="212.58" y="620.00" font-size="7.3" text-anchor="middle" fill="#111" stroke="#111" stroke-width="0.18" >16</text>
<line x1="238.12" y1="608.8" x2="238.12" y2="612" stroke="#333" stroke-width="0.8"/>
<text x="238.12" y="620.00" font-size="7.3" text-anchor="middle" fill="#111" stroke="#111" stroke-width="0.18" >18</text>
<line x1="46.57" y1="608.8" x2="46.57" y2="610.6" stroke="#333" stroke-width="0.7"/>
<line x1="72.11" y1="608.8" x2="72.11" y2="610.6" stroke="#333" stroke-width="0.7"/>
<line x1="97.65" y1="608.8" x2="97.65" y2="610.6" stroke="#333" stroke-width="0.7"/>
<line x1="123.19" y1="608.8" x2="123.19" y2="610.6" stroke="#333" stroke-width="0.7"/>
<line x1="148.73" y1="608.8" x2="148.73" y2="610.6" stroke="#333" stroke-width="0.7"/>
<line x1="174.27" y1="608.8" x2="174.27" y2="610.6" stroke="#333" stroke-width="0.7"/>
<line x1="199.81" y1="608.8" x2="199.81" y2="610.6" stroke="#333" stroke-width="0.7"/>
<line x1="225.35" y1="608.8" x2="225.35" y2="610.6" stroke="#333" stroke-width="0.7"/>
<text x="136.00" y="632.90" font-size="8.3" text-anchor="middle" fill="#111" stroke="#111" stroke-width="0.18" >β (°)</text>
<text transform="translate(12.30,526.70) rotate(-90)" font-size="8.5" text-anchor="middle" fill="#111" stroke="#111" stroke-width="0.18">Lift (gr)</text>
<text transform="translate(263.00,526.30) rotate(-90)" font-size="8.5" text-anchor="middle" fill="#111" stroke="#111" stroke-width="0.18">Frequency (Hz)</text>
<path d="M59.34,513.07 L61.47,512.51 L63.60,511.95 L65.72,511.41 L67.85,510.90 L69.98,510.42 L72.11,510.00 L74.24,509.63 L76.37,509.33 L78.50,509.10 L80.62,508.96 L82.75,508.91 L84.88,508.97 L87.01,509.14 L89.14,509.38 L91.26,509.66 L93.39,509.93 L95.52,510.17 L97.65,510.34 L99.78,510.39 L101.91,510.29 L104.03,510.00 L106.16,509.48 L108.29,508.69 L110.42,507.60 L112.55,506.19 L114.68,504.49 L116.80,502.54 L118.93,500.42 L121.06,498.16 L123.19,495.82 L125.32,493.45 L127.45,491.10 L129.57,488.83 L131.70,486.69 L133.83,484.72 L135.96,482.99 L138.09,481.53 L140.22,480.30 L142.34,479.28 L144.47,478.41 L146.60,477.66 L148.73,476.98 L150.86,476.33 L152.99,475.67 L155.12,474.95 L157.24,474.14 L159.37,473.18 L161.50,472.05 L163.63,470.71 L165.76,469.19 L167.88,467.55 L170.01,465.84 L172.14,464.11 L174.27,462.41 L176.40,460.78 L178.53,459.29 L180.65,457.98 L182.78,456.90 L184.91,456.10 L187.04,455.64 L189.17,455.55 L191.30,455.80 L193.43,456.38 L195.55,457.24 L197.68,458.36 L199.81,459.71 L201.94,461.24 L204.07,462.94 L206.19,464.76 L208.32,466.68 L210.45,468.67 L212.58,470.68" fill="none" stroke="#ff7f0e" stroke-width="1.5" stroke-dasharray="6.2,5.9" stroke-linejoin="round"/>
<circle cx="59.34" cy="513.07" r="1.8" fill="#ff7f0e"/>
<circle cx="84.88" cy="508.97" r="1.8" fill="#ff7f0e"/>
<circle cx="110.42" cy="507.60" r="1.8" fill="#ff7f0e"/>
<circle cx="135.96" cy="482.99" r="1.8" fill="#ff7f0e"/>
<circle cx="161.50" cy="472.05" r="1.8" fill="#ff7f0e"/>
<circle cx="187.04" cy="455.64" r="1.8" fill="#ff7f0e"/>
<circle cx="212.58" cy="470.68" r="1.8" fill="#ff7f0e"/>
<path d="M59.34,578.73 L61.47,579.16 L63.60,579.60 L65.72,580.03 L67.85,580.44 L69.98,580.84 L72.11,581.22 L74.24,581.57 L76.37,581.89 L78.50,582.19 L80.62,582.44 L82.75,582.66 L84.88,582.83 L87.01,582.95 L89.14,583.00 L91.26,582.99 L93.39,582.88 L95.52,582.68 L97.65,582.36 L99.78,581.92 L101.91,581.34 L104.03,580.60 L106.16,579.70 L108.29,578.63 L110.42,577.36 L112.55,575.89 L114.68,574.24 L116.80,572.40 L118.93,570.40 L121.06,568.25 L123.19,565.96 L125.32,563.55 L127.45,561.02 L129.57,558.39 L131.70,555.67 L133.83,552.87 L135.96,550.02 L138.09,547.12 L140.22,544.21 L142.34,541.32 L144.47,538.50 L146.60,535.77 L148.73,533.19 L150.86,530.78 L152.99,528.58 L155.12,526.64 L157.24,524.98 L159.37,523.65 L161.50,522.68 L163.63,522.10 L165.76,521.90 L167.88,522.04 L170.01,522.51 L172.14,523.29 L174.27,524.33 L176.40,525.63 L178.53,527.15 L180.65,528.87 L182.78,530.77 L184.91,532.81 L187.04,534.98 L189.17,537.25 L191.30,539.62 L193.43,542.06 L195.55,544.58 L197.68,547.17 L199.81,549.81 L201.94,552.50 L204.07,555.24 L206.19,558.00 L208.32,560.80 L210.45,563.61 L212.58,566.42" fill="none" stroke="#1868f4" stroke-width="1.6" stroke-linejoin="round"/>
<rect x="57.74" y="577.13" width="3.2" height="3.2" fill="#1868f4"/>
<rect x="83.28" y="581.23" width="3.2" height="3.2" fill="#1868f4"/>
<rect x="108.82" y="575.76" width="3.2" height="3.2" fill="#1868f4"/>
<rect x="134.36" y="548.42" width="3.2" height="3.2" fill="#1868f4"/>
<rect x="159.90" y="521.08" width="3.2" height="3.2" fill="#1868f4"/>
<rect x="185.44" y="533.38" width="3.2" height="3.2" fill="#1868f4"/>
<rect x="210.98" y="564.82" width="3.2" height="3.2" fill="#1868f4"/>
<rect x="38.3" y="448.1" width="41.3" height="14.4" fill="#fff" stroke="#999" stroke-width="0.6"/>
<line x1="39" y1="452.1" x2="52" y2="452.1" stroke="#1868f4" stroke-width="1.8"/>
<rect x="43.8" y="450.4" width="3.4" height="3.4" fill="#1868f4"/>
<text x="53.30" y="453.90" font-size="5.5" text-anchor="start" fill="#111" stroke="#111" stroke-width="0.18" >Lift</text>
<line x1="39" y1="458.8" x2="45" y2="458.8" stroke="#ff7f0e" stroke-width="1.4"/>
<circle cx="45.6" cy="458.8" r="1.8" fill="#ff7f0e"/>
<text x="53.30" y="460.70" font-size="5.35" text-anchor="start" fill="#111" stroke="#111" stroke-width="0.18" >Frequency</text>
<text x="136.00" y="656.10" font-family="'Liberation Serif',serif" font-size="11.8" letter-spacing="0.45" text-anchor="middle" fill="#000">(<tspan font-weight="bold">e</tspan>)</text>
</g>
<g id="pf">
<line x1="329.9" y1="447.7" x2="329.9" y2="605.3" stroke="#585858" stroke-width="1.2"/>
<line x1="329.3" y1="604.7" x2="524.8" y2="604.7" stroke="#585858" stroke-width="1.2"/>
<line x1="326.9" y1="604.70" x2="329.9" y2="604.70" stroke="#585858" stroke-width="1"/>
<text x="324.80" y="607.70" font-size="9.6" text-anchor="end" fill="#111" stroke="#111" stroke-width="0.18" >3.2</text>
<line x1="326.9" y1="552.50" x2="329.9" y2="552.50" stroke="#585858" stroke-width="1"/>
<text x="324.80" y="555.50" font-size="9.6" text-anchor="end" fill="#111" stroke="#111" stroke-width="0.18" >3.4</text>
<line x1="326.9" y1="500.30" x2="329.9" y2="500.30" stroke="#585858" stroke-width="1"/>
<text x="324.80" y="503.30" font-size="9.6" text-anchor="end" fill="#111" stroke="#111" stroke-width="0.18" >3.6</text>
<line x1="326.9" y1="448.10" x2="329.9" y2="448.10" stroke="#585858" stroke-width="1"/>
<text x="324.80" y="451.10" font-size="9.6" text-anchor="end" fill="#111" stroke="#111" stroke-width="0.18" >3.8</text>
<line x1="327.9" y1="578.60" x2="329.9" y2="578.60" stroke="#585858" stroke-width="0.9"/>
<line x1="327.9" y1="526.40" x2="329.9" y2="526.40" stroke="#585858" stroke-width="0.9"/>
<line x1="327.9" y1="474.20" x2="329.9" y2="474.20" stroke="#585858" stroke-width="0.9"/>
<line x1="362.50" y1="604.7" x2="362.50" y2="608.3" stroke="#585858" stroke-width="1"/>
<text x="362.50" y="617.60" font-size="9.6" text-anchor="middle" fill="#111" stroke="#111" stroke-width="0.18" >60</text>
<line x1="427.20" y1="604.7" x2="427.20" y2="608.3" stroke="#585858" stroke-width="1"/>
<text x="427.20" y="617.60" font-size="9.6" text-anchor="middle" fill="#111" stroke="#111" stroke-width="0.18" >70</text>
<line x1="491.90" y1="604.7" x2="491.90" y2="608.3" stroke="#585858" stroke-width="1"/>
<text x="491.90" y="617.60" font-size="9.6" text-anchor="middle" fill="#111" stroke="#111" stroke-width="0.18" >80</text>
<line x1="394.85" y1="604.7" x2="394.85" y2="606.7" stroke="#585858" stroke-width="0.9"/>
<line x1="459.55" y1="604.7" x2="459.55" y2="606.7" stroke="#585858" stroke-width="0.9"/>
<line x1="524.25" y1="604.7" x2="524.25" y2="606.7" stroke="#585858" stroke-width="0.9"/>
<text x="427.00" y="633.00" font-size="9.6" text-anchor="middle" fill="#111" stroke="#111" stroke-width="0.18" >Wingspan (mm)</text>
<text transform="translate(307.50,525.50) rotate(-90)" font-size="9.6" text-anchor="middle" fill="#111" stroke="#111" stroke-width="0.18">Lift/Power (g/W)</text>
<path d="M362.50,461.15 L365.20,462.24 L367.89,463.33 L370.59,464.41 L373.28,465.50 L375.98,466.59 L378.68,467.68 L381.37,468.76 L384.07,469.85 L386.76,470.94 L389.46,472.03 L392.15,473.11 L394.85,474.20 L397.55,475.29 L400.24,476.38 L402.94,477.50 L405.63,478.63 L408.33,479.80 L411.02,481.01 L413.72,482.27 L416.42,483.59 L419.11,484.97 L421.81,486.43 L424.50,487.97 L427.20,489.60 L429.02,490.76 L430.84,491.96 L432.67,493.22 L434.49,494.53 L436.31,495.89 L438.13,497.32 L439.96,498.82 L441.78,500.37 L443.60,502.00 L445.42,503.71 L447.25,505.49 L449.07,507.35 L450.70,509.08 L452.34,510.89 L453.97,512.78 L455.60,514.75 L457.24,516.81 L458.87,518.96 L460.50,521.20 L462.14,523.55 L463.77,526.01 L465.41,528.59 L467.04,531.28 L468.67,534.10 L470.61,537.60 L472.54,541.27 L474.48,545.09 L476.42,549.05 L478.35,553.13 L480.29,557.32 L482.22,561.60 L484.16,565.95 L486.09,570.36 L488.03,574.82 L489.96,579.31 L491.90,583.82" fill="none" stroke="#ff7f0e" stroke-width="1.4" stroke-linejoin="round"/>
<rect x="360.50" y="459.15" width="4" height="4" fill="#1a9aff"/>
<rect x="392.85" y="472.20" width="4" height="4" fill="#1a9aff"/>
<rect x="425.20" y="485.25" width="4" height="4" fill="#1a9aff"/>
<rect x="457.55" y="511.35" width="4" height="4" fill="#1a9aff"/>
<rect x="489.90" y="581.82" width="4" height="4" fill="#1a9aff"/>
<rect x="463.3" y="446.3" width="69" height="13.2" fill="#fff" stroke="#aaa" stroke-width="0.6"/>
<line x1="463.8" y1="452.8" x2="486" y2="452.8" stroke="#ff7f0e" stroke-width="1.5"/>
<rect x="472.8" y="450.6" width="4.3" height="4.3" fill="#1a9aff"/>
<text x="488.90" y="456.10" font-size="9.45" text-anchor="start" fill="#111" stroke="#111" stroke-width="0.18" >Lift/Power</text>
<text x="416.30" y="655.90" font-family="'Liberation Serif',serif" font-size="11.8" letter-spacing="0.45" text-anchor="middle" fill="#000">(<tspan font-weight="bold">f</tspan>)</text>
</g>
</svg></body></html>
